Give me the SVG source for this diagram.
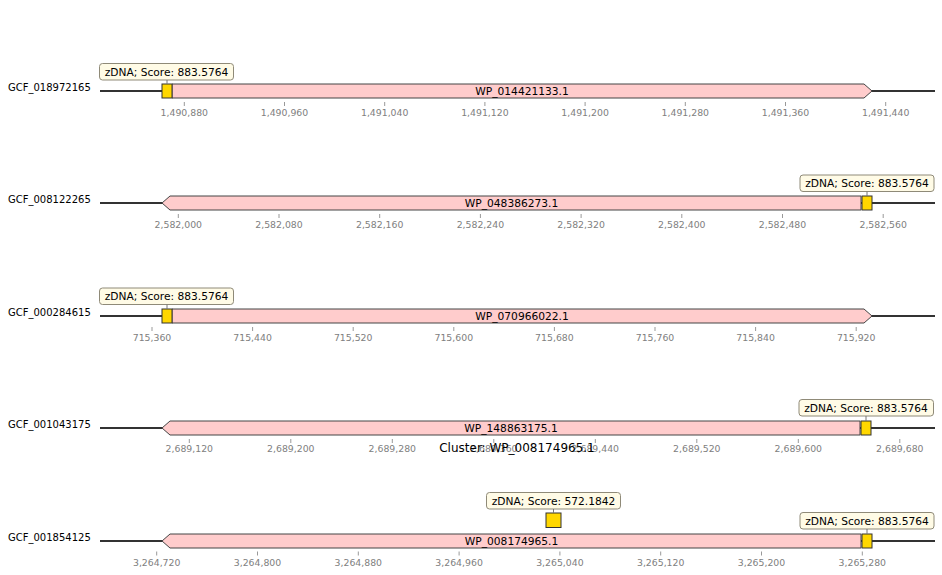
<svg xmlns="http://www.w3.org/2000/svg" width="942" height="575" viewBox="0 0 942 575">
<style>
text{font-family:"DejaVu Sans","Liberation Sans",sans-serif}
.bg{fill:#ffffff}
.base{stroke:#333333;stroke-width:2;fill:none}
.gene{fill:#ffcccc;stroke:#444444;stroke-width:1}
.zdna{fill:#ffd700;stroke:#333333;stroke-width:1}
.lbox{fill:#fffbe6;stroke:#8f8a78;stroke-width:1}
.ltxt{font-size:10.67px;fill:#000;text-anchor:middle}
.gtxt{font-size:10.67px;fill:#000;text-anchor:middle}
.name{font-size:10px;fill:#000}
.tick{stroke:#999999;stroke-width:1}
.ttxt{font-size:9.33px;fill:#808080;text-anchor:middle}
.call{stroke:#777777;stroke-width:1}
.title{font-size:12px;fill:#000;text-anchor:middle}
</style>
<rect class="bg" x="0" y="0" width="942" height="575"/>

<g id="track1">
<text class="name" x="8" y="90.5">GCF_018972165</text>
<line class="base" x1="100" y1="91" x2="935" y2="91"/>
<polygon class="gene" points="172,84 864,84 872,91 864,98 172,98"/>
<text class="gtxt" x="522" y="95">WP_014421133.1</text>
<rect class="zdna" x="162" y="84" width="10" height="14"/>
<g class="ticks">
<line class="tick" x1="184.3" y1="102" x2="184.3" y2="106"/><text class="ttxt" x="184.3" y="116">1,490,880</text>
<line class="tick" x1="284.5" y1="102" x2="284.5" y2="106"/><text class="ttxt" x="284.5" y="116">1,490,960</text>
<line class="tick" x1="384.7" y1="102" x2="384.7" y2="106"/><text class="ttxt" x="384.7" y="116">1,491,040</text>
<line class="tick" x1="484.9" y1="102" x2="484.9" y2="106"/><text class="ttxt" x="484.9" y="116">1,491,120</text>
<line class="tick" x1="585.1" y1="102" x2="585.1" y2="106"/><text class="ttxt" x="585.1" y="116">1,491,200</text>
<line class="tick" x1="685.3" y1="102" x2="685.3" y2="106"/><text class="ttxt" x="685.3" y="116">1,491,280</text>
<line class="tick" x1="785.5" y1="102" x2="785.5" y2="106"/><text class="ttxt" x="785.5" y="116">1,491,360</text>
<line class="tick" x1="885.7" y1="102" x2="885.7" y2="106"/><text class="ttxt" x="885.7" y="116">1,491,440</text>
</g>
<rect class="lbox" x="99.5" y="63.5" width="134" height="16.5" rx="3"/>
<text class="ltxt" x="166.5" y="75.5">zDNA; Score: 883.5764</text>
</g>

<g id="track2">
<text class="name" x="8" y="202.5">GCF_008122265</text>
<line class="base" x1="100" y1="203" x2="935" y2="203"/>
<polygon class="gene" points="170,196 861,196 861,210 170,210 162,203"/>
<text class="gtxt" x="511.5" y="207">WP_048386273.1</text>
<rect class="zdna" x="862" y="196" width="10" height="14"/>
<g class="ticks">
<line class="tick" x1="178.3" y1="214" x2="178.3" y2="218"/><text class="ttxt" x="178.3" y="228">2,582,000</text>
<line class="tick" x1="279" y1="214" x2="279" y2="218"/><text class="ttxt" x="279" y="228">2,582,080</text>
<line class="tick" x1="379.7" y1="214" x2="379.7" y2="218"/><text class="ttxt" x="379.7" y="228">2,582,160</text>
<line class="tick" x1="480.4" y1="214" x2="480.4" y2="218"/><text class="ttxt" x="480.4" y="228">2,582,240</text>
<line class="tick" x1="581.1" y1="214" x2="581.1" y2="218"/><text class="ttxt" x="581.1" y="228">2,582,320</text>
<line class="tick" x1="681.8" y1="214" x2="681.8" y2="218"/><text class="ttxt" x="681.8" y="228">2,582,400</text>
<line class="tick" x1="782.5" y1="214" x2="782.5" y2="218"/><text class="ttxt" x="782.5" y="228">2,582,480</text>
<line class="tick" x1="883.2" y1="214" x2="883.2" y2="218"/><text class="ttxt" x="883.2" y="228">2,582,560</text>
</g>
<rect class="lbox" x="800" y="175" width="134" height="16.5" rx="3"/>
<text class="ltxt" x="867" y="187">zDNA; Score: 883.5764</text>
</g>

<g id="track3">
<text class="name" x="8" y="315.5">GCF_000284615</text>
<line class="base" x1="100" y1="316" x2="935" y2="316"/>
<polygon class="gene" points="172,309 864,309 872,316 864,323 172,323"/>
<text class="gtxt" x="522" y="320">WP_070966022.1</text>
<rect class="zdna" x="162" y="309" width="10" height="14"/>
<g class="ticks">
<line class="tick" x1="152" y1="327" x2="152" y2="331"/><text class="ttxt" x="152" y="341">715,360</text>
<line class="tick" x1="252.6" y1="327" x2="252.6" y2="331"/><text class="ttxt" x="252.6" y="341">715,440</text>
<line class="tick" x1="353.2" y1="327" x2="353.2" y2="331"/><text class="ttxt" x="353.2" y="341">715,520</text>
<line class="tick" x1="453.8" y1="327" x2="453.8" y2="331"/><text class="ttxt" x="453.8" y="341">715,600</text>
<line class="tick" x1="554.4" y1="327" x2="554.4" y2="331"/><text class="ttxt" x="554.4" y="341">715,680</text>
<line class="tick" x1="655" y1="327" x2="655" y2="331"/><text class="ttxt" x="655" y="341">715,760</text>
<line class="tick" x1="755.6" y1="327" x2="755.6" y2="331"/><text class="ttxt" x="755.6" y="341">715,840</text>
<line class="tick" x1="856.2" y1="327" x2="856.2" y2="331"/><text class="ttxt" x="856.2" y="341">715,920</text>
</g>
<rect class="lbox" x="99.5" y="288" width="134" height="16.5" rx="3"/>
<text class="ltxt" x="166.5" y="300">zDNA; Score: 883.5764</text>
</g>

<g id="track4">
<text class="name" x="8" y="427.5">GCF_001043175</text>
<line class="base" x1="100" y1="428" x2="935" y2="428"/>
<polygon class="gene" points="170,421 860,421 860,435 170,435 162,428"/>
<text class="gtxt" x="511" y="432">WP_148863175.1</text>
<rect class="zdna" x="861" y="421" width="10" height="14"/>
<g class="ticks">
<line class="tick" x1="189.3" y1="439" x2="189.3" y2="443"/><text class="ttxt" x="189.3" y="452">2,689,120</text>
<line class="tick" x1="290.8" y1="439" x2="290.8" y2="443"/><text class="ttxt" x="290.8" y="452">2,689,200</text>
<line class="tick" x1="392.3" y1="439" x2="392.3" y2="443"/><text class="ttxt" x="392.3" y="452">2,689,280</text>
<line class="tick" x1="493.8" y1="439" x2="493.8" y2="443"/><text class="ttxt" x="493.8" y="452">2,689,360</text>
<line class="tick" x1="595.3" y1="439" x2="595.3" y2="443"/><text class="ttxt" x="595.3" y="452">2,689,440</text>
<line class="tick" x1="696.8" y1="439" x2="696.8" y2="443"/><text class="ttxt" x="696.8" y="452">2,689,520</text>
<line class="tick" x1="798.3" y1="439" x2="798.3" y2="443"/><text class="ttxt" x="798.3" y="452">2,689,600</text>
<line class="tick" x1="899.8" y1="439" x2="899.8" y2="443"/><text class="ttxt" x="899.8" y="452">2,689,680</text>
</g>
<rect class="lbox" x="799" y="399.5" width="134.5" height="16.5" rx="3"/>
<text class="ltxt" x="866" y="411.5">zDNA; Score: 883.5764</text>
</g>

<g id="track5">
<text class="name" x="8" y="540.5">GCF_001854125</text>
<line class="base" x1="100" y1="541" x2="935" y2="541"/>
<polygon class="gene" points="170,534 861,534 861,548 170,548 162,541"/>
<text class="gtxt" x="511.5" y="545">WP_008174965.1</text>
<rect class="zdna" x="862" y="534" width="10" height="14"/>
<rect class="zdna" x="546" y="513" width="15" height="14.5"/>
<g class="ticks">
<line class="tick" x1="156.7" y1="551.5" x2="156.7" y2="555.5"/><text class="ttxt" x="156.7" y="566">3,264,720</text>
<line class="tick" x1="257.5" y1="551.5" x2="257.5" y2="555.5"/><text class="ttxt" x="257.5" y="566">3,264,800</text>
<line class="tick" x1="358.3" y1="551.5" x2="358.3" y2="555.5"/><text class="ttxt" x="358.3" y="566">3,264,880</text>
<line class="tick" x1="459.1" y1="551.5" x2="459.1" y2="555.5"/><text class="ttxt" x="459.1" y="566">3,264,960</text>
<line class="tick" x1="559.9" y1="551.5" x2="559.9" y2="555.5"/><text class="ttxt" x="559.9" y="566">3,265,040</text>
<line class="tick" x1="660.7" y1="551.5" x2="660.7" y2="555.5"/><text class="ttxt" x="660.7" y="566">3,265,120</text>
<line class="tick" x1="761.5" y1="551.5" x2="761.5" y2="555.5"/><text class="ttxt" x="761.5" y="566">3,265,200</text>
<line class="tick" x1="862.3" y1="551.5" x2="862.3" y2="555.5"/><text class="ttxt" x="862.3" y="566">3,265,280</text>
</g>
<rect class="lbox" x="486.5" y="492.5" width="134" height="16.5" rx="3"/>
<text class="ltxt" x="553.5" y="504.5">zDNA; Score: 572.1842</text>
<rect class="lbox" x="800" y="512.5" width="134" height="16.5" rx="3"/>
<text class="ltxt" x="867" y="524.5">zDNA; Score: 883.5764</text>
</g>

<g id="connectors">
<line class="call" x1="167" y1="80" x2="167" y2="84"/>
<line class="call" x1="867" y1="191.5" x2="867" y2="196"/>
<line class="call" x1="167" y1="304.5" x2="167" y2="309"/>
<line class="call" x1="866" y1="416" x2="866" y2="421"/>
<line class="call" x1="553.5" y1="509" x2="553.5" y2="513"/>
<line class="call" x1="867" y1="529" x2="867" y2="534"/>
</g>

<g id="title">
<text class="title" x="517" y="452">Cluster: WP_008174965.1</text>
</g>
</svg>
